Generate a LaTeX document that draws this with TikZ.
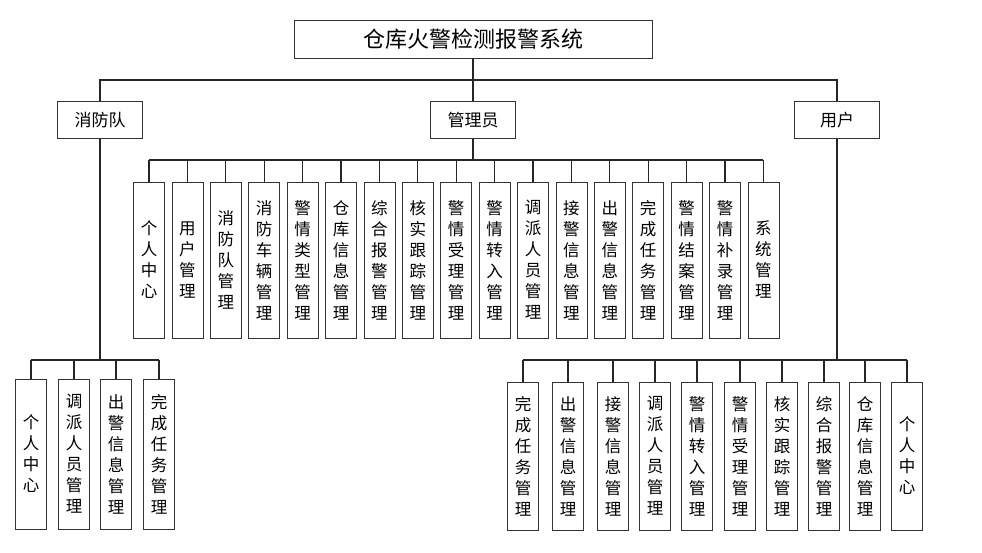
\documentclass[tikz,border=0pt]{standalone}
\usepackage{fontspec}
\setmainfont{Noto Sans CJK SC}
\XeTeXlinebreaklocale "zh"
\XeTeXlinebreakskip=0pt plus 1pt
\tikzset{
  topbox/.style={draw=black!80, thick, minimum width=358pt, minimum height=38pt, font=\fontsize{22}{26}\selectfont},
  rolebox/.style={draw=black!80, thick, minimum width=85pt, minimum height=37pt, font=\fontsize{17}{20}\selectfont},
  itembox/.style={draw=black!80, thick, minimum width=31pt, text width=18pt, align=center, inner xsep=0pt,
    font=\fontsize{16.5}{21}\selectfont},
  link/.style={draw=black!85, line width=1.1pt},
}
\begin{document}
\begin{tikzpicture}[x=1pt,y=-1pt]
		\useasboundingbox (0,0) rectangle (982,553);
		
		\node[topbox] (sys) at (473,39){仓库火警检测报警系统};
		
		\node[rolebox] (fire) at (100,120){消防队};
		\node[rolebox] (admin) at (473,120){管理员};
		\node[rolebox] (user) at (837,120){用户};
		
		\draw[link] (sys.south) -- (473,80);
		\draw[link] (fire.north) |- (473,80) -| (user.north);
		\draw[link] (admin.north) -- (473,80);
		
		% admin items
		\foreach \txt [count=\i from 0] in {个人中心,用户管理,消防队管理,消防车辆管理,警情类型管理,仓库信息管理,综合报警管理,核实跟踪管理,警情受理管理,警情转入管理,调派人员管理,接警信息管理,出警信息管理,完成任务管理,警情结案管理,警情补录管理,系统管理}{
			\node[itembox, minimum height=156pt] (a\i) at (149+38.4*\i,260){\txt};
			\draw[link] (a\i.north) -- (149+38.4*\i,160);
		}
		\draw[link] (admin.south) -- (473,160);
		\draw[link] (a0.north |- 0,160) -- (a16.north |- 0,160);
		
		% fire team items
		\foreach \txt/\xx [count=\i from 0] in {个人中心/31,调派人员管理/74,出警信息管理/116,完成任务管理/159}{
			\node[itembox, minimum height=150pt] (f\i) at (\xx,454){\txt};
			\draw[link] (f\i.north) -- (\xx,360);
		}
		\draw[link] (fire.south) -- (100,360);
		\draw[link] (f0.north |- 0,360) -- (f3.north |- 0,360);
		
		% user items
		\foreach \txt/\xx [count=\i from 0] in {完成任务管理/523,出警信息管理/568,接警信息管理/613,调派人员管理/655,警情转入管理/697,警情受理管理/740,核实跟踪管理/782,综合报警管理/824,仓库信息管理/865,个人中心/907}{
			\node[itembox, minimum height=148pt] (u\i) at (\xx,456){\txt};
			\draw[link] (u\i.north) -- (\xx,360);
		}
		\draw[link] (user.south) -- (837,360);
		\draw[link] (u0.north |- 0,360) -- (u9.north |- 0,360);
\end{tikzpicture}
\end{document}
